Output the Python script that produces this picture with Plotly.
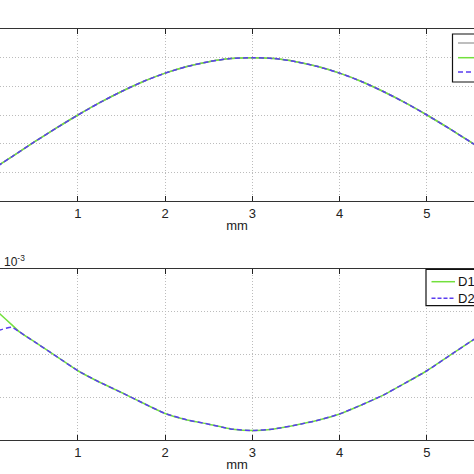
import plotly.graph_objects as go

# ---------------- data ----------------
x_top = [0, 0.25, 0.5, 0.75, 1, 1.25, 1.5, 1.75, 2, 2.25, 2.5, 2.75, 3,
         3.25, 3.5, 3.75, 4, 4.25, 4.5, 4.75, 5, 5.25, 5.5, 5.75, 6]
top_ref = [1.06, 1.56, 2.06, 2.54, 3.00, 3.43, 3.82, 4.17, 4.46, 4.69, 4.86, 4.97, 5.00,
           4.97, 4.86, 4.69, 4.46, 4.17, 3.82, 3.43, 3.00, 2.54, 2.06, 1.56, 1.06]
top_d1 = list(top_ref)
top_d2 = list(top_ref)

x_bot = [0, 0.1, 0.24, 0.33, 0.5, 0.75, 1, 1.25, 1.5, 1.75, 2, 2.25, 2.5, 2.75, 3,
         3.25, 3.5, 3.75, 4, 4.25, 4.5, 4.75, 5, 5.25, 5.5, 5.75, 6]
bot_d1 = [3.15, 2.96, 2.70, 2.53, 2.30, 1.96, 1.62, 1.35, 1.11, 0.86, 0.62, 0.47, 0.37, 0.26, 0.22,
          0.26, 0.35, 0.46, 0.61, 0.82, 1.05, 1.33, 1.62, 1.96, 2.30, 2.62, 2.95]
bot_d2 = [2.50, 2.57, 2.64, 2.53, 2.30, 1.96, 1.62, 1.35, 1.11, 0.86, 0.62, 0.47, 0.37, 0.26, 0.22,
          0.26, 0.35, 0.46, 0.61, 0.82, 1.05, 1.33, 1.62, 1.96, 2.30, 2.62, 2.95]

x_ticks = [0, 1, 2, 3, 4, 5, 6]
x_label = "mm"
legend_bottom = ["D1", "D2"]

GRAY = "#a8a8a8"
GREEN = "#72e03c"
BLUE = "#5a3cf0"
FONT = "Liberation Sans, Arial"

W = H = 474

fig = go.Figure()
fig.add_trace(go.Scatter(x=x_top, y=top_ref, mode="lines", line=dict(color=GRAY, width=1.5, shape="spline", smoothing=0.6),
                         xaxis="x", yaxis="y", showlegend=False))
fig.add_trace(go.Scatter(x=x_top, y=top_d1, mode="lines", line=dict(color=GREEN, width=1.5, shape="spline", smoothing=0.6),
                         xaxis="x", yaxis="y", showlegend=False))
fig.add_trace(go.Scatter(x=x_top, y=top_d2, mode="lines",
                         line=dict(color=BLUE, width=1.5, dash="5px,3px", shape="spline", smoothing=0.6),
                         xaxis="x", yaxis="y", showlegend=False))
fig.add_trace(go.Scatter(x=x_bot, y=bot_d1, mode="lines", line=dict(color=GREEN, width=1.5, shape="spline", smoothing=0.4),
                         xaxis="x2", yaxis="y2", showlegend=False))
fig.add_trace(go.Scatter(x=x_bot, y=bot_d2, mode="lines",
                         line=dict(color=BLUE, width=1.5, dash="5px,3px", shape="spline", smoothing=0.4),
                         xaxis="x2", yaxis="y2", showlegend=False))


def py(p):
    return 1 - p / H


def px(p):
    return p / W


GRID = dict(showgrid=True, gridcolor="#bcbcbc", griddash="1px,2px", gridwidth=1)

xcommon = dict(range=[0.107, 5.54], tickvals=x_ticks, ticks="inside", ticklen=5, tickcolor="#222",
               showline=True, linecolor="#333", linewidth=1.2, mirror="allticks",
               zeroline=False, tickfont=dict(family=FONT, size=13, color="#222"),
               title=dict(text=x_label, font=dict(family=FONT, size=13, color="#222"), standoff=1),
               automargin=False, domain=[0, 1], **GRID)
ycommon = dict(showline=False, showticklabels=False, ticks="", zeroline=False, dtick=1,
               automargin=False, **GRID)

fig.update_layout(
    width=W, height=H,
    margin=dict(l=0, r=0, t=0, b=0),
    paper_bgcolor="white", plot_bgcolor="white",
    xaxis=dict(**xcommon, anchor="y"),
    xaxis2=dict(**xcommon, anchor="y2"),
    yaxis=dict(**ycommon, range=[0, 6], domain=[py(201), py(29)], anchor="x"),
    yaxis2=dict(**ycommon, range=[0, 4], domain=[py(440), py(269)], anchor="x2"),
    showlegend=False,
)

shapes = []
annotations = []
# top legend box (cut at the right edge, as in the reference)
shapes.append(dict(type="rect", xref="paper", yref="paper", x0=px(452.5), x1=px(490),
                   y0=py(82), y1=py(34), line=dict(color="#111", width=1.2), fillcolor="white", layer="above"))
for yy, col, dash in [(43, GRAY, "solid"), (57.7, GREEN, "solid"), (72, BLUE, "5px,3px")]:
    shapes.append(dict(type="line", xref="paper", yref="paper", x0=px(458), x1=px(490),
                       y0=py(yy), y1=py(yy), line=dict(color=col, width=1.5, dash=dash), layer="above"))
# bottom legend box
shapes.append(dict(type="rect", xref="paper", yref="paper", x0=px(426), x1=px(490),
                   y0=py(305.7), y1=py(269.3), line=dict(color="#111", width=1.2), fillcolor="white", layer="above"))
for (yy, col, dash), lab in zip([(281.7, GREEN, "solid"), (298.3, BLUE, "4px,2px")], legend_bottom):
    shapes.append(dict(type="line", xref="paper", yref="paper", x0=px(431.5), x1=px(455),
                       y0=py(yy), y1=py(yy), line=dict(color=col, width=1.5, dash=dash), layer="above"))
    annotations.append(dict(text=lab, xref="paper", yref="paper", x=px(455.5), y=py(yy), xanchor="left",
                            yanchor="middle", showarrow=False,
                            font=dict(family=FONT, size=13, color="#111")))
annotations.append(dict(text="10<sup>-3</sup>", xref="paper", yref="paper", x=px(2), y=py(261),
                        xanchor="left", yanchor="middle", showarrow=False,
                        font=dict(family=FONT, size=12, color="#222")))

fig.update_layout(shapes=shapes, annotations=annotations)
fig.write_html("out.html", config={"displayModeBar": False},
               post_script="document.body.style.margin='0';document.body.style.overflow='hidden';")
